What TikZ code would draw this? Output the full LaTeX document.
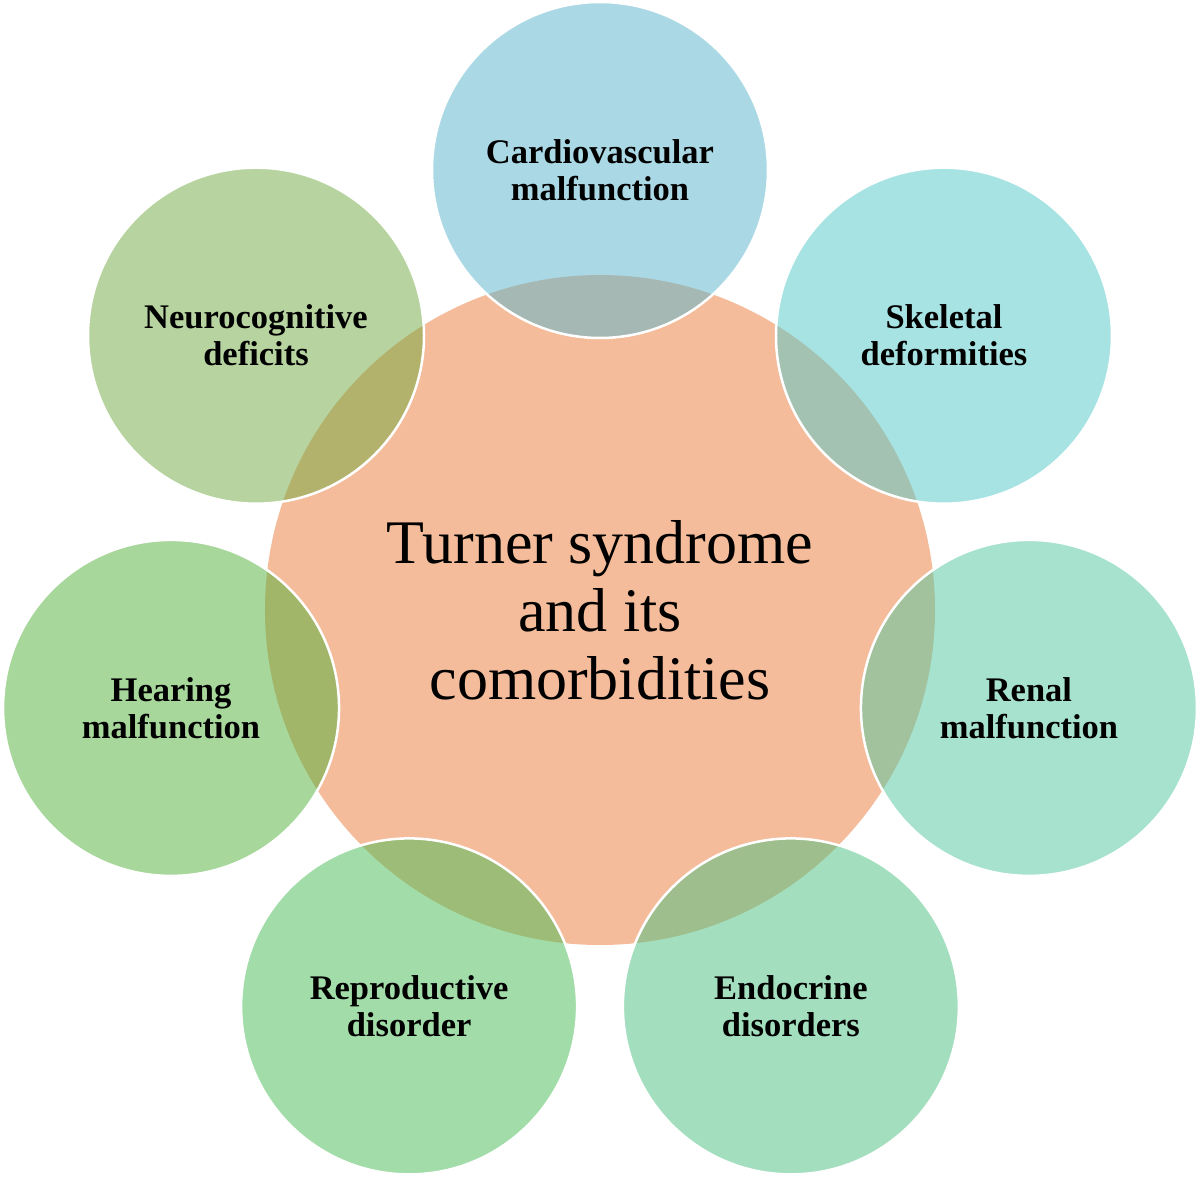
\documentclass[tikz,border=0pt]{standalone}
\usepackage{fontspec}
\setmainfont{Liberation Serif}
\definecolor{cCardio}{RGB}{87,181,205}
\definecolor{cSkel}{RGB}{83,201,201}
\definecolor{cRenal}{RGB}{81,199,161}
\definecolor{cEndo}{RGB}{73,193,129}
\definecolor{cRepro}{RGB}{71,189,85}
\definecolor{cHear}{RGB}{81,177,57}
\definecolor{cNeuro}{RGB}{113,169,65}
\definecolor{cCenter}{RGB}{244,188,154}
\tikzset{
  hub/.style={circle, minimum size=670pt, inner sep=0pt, fill=cCenter, draw=none,
    align=center, font=\fontsize{62}{68}\selectfont},
  sat/.style={circle, minimum size=336pt, inner sep=0pt, fill=#1, fill opacity=0.5,
    text opacity=1, draw=white, draw opacity=1, line width=2.5pt, align=center,
    font=\bfseries\fontsize{34.5}{37}\selectfont}
}
\begin{document}
\begin{tikzpicture}[x=1pt,y=1pt]
\useasboundingbox (-600,-569) rectangle (600,610);
\fill[white] (-600,-569) rectangle (600,610);
\node[hub] (hub) at (0,0) {Turner syndrome\\and its\\comorbidities};
\node[sat=cCardio] (cardio) at (90:440) {Cardiovascular\\malfunction};
\node[sat=cSkel] (skel) at ({90-360/7}:440) {Skeletal\\deformities};
\node[sat=cRenal] (renal) at ({90-2*360/7}:440) {Renal\\malfunction};
\node[sat=cEndo] (endo) at ({90-3*360/7}:440) {Endocrine\\disorders};
\node[sat=cRepro] (repro) at ({90-4*360/7}:440) {Reproductive\\disorder};
\node[sat=cHear] (hear) at ({90-5*360/7}:440) {Hearing\\malfunction};
\node[sat=cNeuro] (neuro) at ({90-6*360/7}:440) {Neurocognitive\\deficits};
\end{tikzpicture}
\end{document}
